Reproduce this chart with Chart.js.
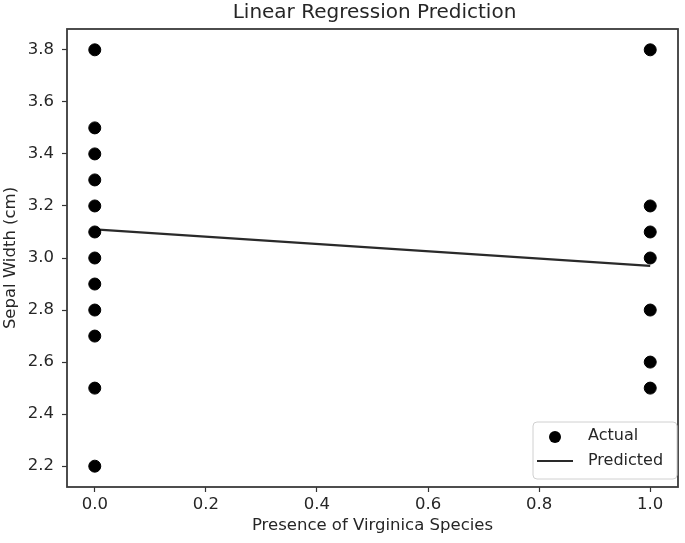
<!DOCTYPE html>
<html>
<head>
<meta charset="utf-8">
<script src="https://cdn.jsdelivr.net/npm/chart.js@4"></script>
<style>
  html, body { margin: 0; padding: 0; background: #fff; }
  #wrap { width: 685px; height: 543px; position: relative; }
</style>
</head>
<body>
<div id="wrap"><canvas id="c" width="685" height="543"></canvas></div>
<script>
// Data
const speciesX0 = [0, 0, 0, 0, 0, 0, 0, 0, 0, 0, 0, 0];
const widthX0 = [3.8, 3.5, 3.4, 3.3, 3.2, 3.1, 3.0, 2.9, 2.8, 2.7, 2.5, 2.2];
const speciesX1 = [1, 1, 1, 1, 1, 1, 1];
const widthX1 = [3.8, 3.2, 3.1, 3.0, 2.8, 2.6, 2.5];
const predX = [0, 1];
const predY = [3.11, 2.97];
const xTickValues = [0.0, 0.2, 0.4, 0.6, 0.8, 1.0];
const yTickValues = [2.2, 2.4, 2.6, 2.8, 3.0, 3.2, 3.4, 3.6, 3.8];

const actualPoints = speciesX0.map((x, i) => ({ x: x, y: widthX0[i] }))
  .concat(speciesX1.map((x, i) => ({ x: x, y: widthX1[i] })));
const predictedPoints = predX.map((x, i) => ({ x: x, y: predY[i] }));

const FONT = "'DejaVu Sans', sans-serif";
const TXT = '#262626';
const FS = 16.5;

const framePlugin = {
  id: 'frame',
  afterDraw(chart) {
    const { ctx, chartArea: a } = chart;
    ctx.save();
    ctx.strokeStyle = '#3a3a3a';
    ctx.lineWidth = 1.8;
    ctx.strokeRect(a.left, a.top, a.right - a.left, a.bottom - a.top);
    // title
    ctx.fillStyle = TXT;
    ctx.font = '20px ' + FONT;
    ctx.textAlign = 'center';
    ctx.textBaseline = 'middle';
    ctx.fillText('Linear Regression Prediction', (a.left + a.right) / 2 + 2, 13);
    // legend
    const bx = 533, by = 422, bw = 144, bh = 57, r = 4;
    ctx.beginPath();
    ctx.moveTo(bx + r, by);
    ctx.lineTo(bx + bw - r, by);
    ctx.quadraticCurveTo(bx + bw, by, bx + bw, by + r);
    ctx.lineTo(bx + bw, by + bh - r);
    ctx.quadraticCurveTo(bx + bw, by + bh, bx + bw - r, by + bh);
    ctx.lineTo(bx + r, by + bh);
    ctx.quadraticCurveTo(bx, by + bh, bx, by + bh - r);
    ctx.lineTo(bx, by + r);
    ctx.quadraticCurveTo(bx, by, bx + r, by);
    ctx.closePath();
    ctx.fillStyle = 'rgba(255,255,255,0.8)';
    ctx.fill();
    ctx.strokeStyle = '#d0d0d0';
    ctx.lineWidth = 1;
    ctx.stroke();
    const ds = chart.data.datasets;
    // Actual marker
    ctx.fillStyle = ds[0].backgroundColor;
    ctx.beginPath();
    ctx.arc(555, 437, 6, 0, Math.PI * 2);
    ctx.fill();
    // Predicted line
    ctx.strokeStyle = ds[1].borderColor;
    ctx.lineWidth = 2;
    ctx.beginPath();
    ctx.moveTo(537, 461);
    ctx.lineTo(573, 461);
    ctx.stroke();
    ctx.fillStyle = TXT;
    ctx.font = '16px ' + FONT;
    ctx.textAlign = 'left';
    ctx.textBaseline = 'middle';
    ctx.fillText(ds[0].label, 588, 436);
    ctx.fillText(ds[1].label, 588, 461);
    ctx.restore();
  }
};

new Chart(document.getElementById('c'), {
  type: 'scatter',
  data: {
    datasets: [
      {
        label: 'Actual',
        data: actualPoints,
        backgroundColor: '#000',
        borderColor: '#000',
        pointRadius: 6,
        pointHoverRadius: 6
      },
      {
        type: 'line',
        label: 'Predicted',
        data: predictedPoints,
        borderColor: '#2a2a2a',
        backgroundColor: '#2a2a2a',
        borderWidth: 2.2,
        pointRadius: 0,
        fill: false,
        showLine: true
      }
    ]
  },
  options: {
    responsive: false,
    animation: false,
    devicePixelRatio: 1,
    layout: { padding: { top: 29, right: 2, left: 0, bottom: 0 } },
    plugins: {
      legend: { display: false },
      title: { display: false },
      tooltip: { enabled: false }
    },
    scales: {
      x: {
        type: 'linear',
        min: -0.05,
        max: 1.05,
        afterFit(s) { s.height = 56; },
        afterBuildTicks(s) { s.ticks = xTickValues.map(v => ({ value: v })); },
        grid: { display: true, drawOnChartArea: false, drawTicks: true, tickLength: 5, color: '#333', tickWidth: 1.2 },
        border: { display: false },
        ticks: {
          color: TXT,
          font: { family: FONT, size: FS },
          padding: 3,
          maxRotation: 0,
          autoSkip: false,
          callback: v => Number(v).toFixed(1)
        },
        title: {
          display: true,
          text: 'Presence of Virginica Species',
          color: TXT,
          font: { family: FONT, size: FS },
          padding: { top: 0, bottom: 7 }
        }
      },
      y: {
        type: 'linear',
        min: 2.12,
        max: 3.88,
        afterFit(s) { s.width = 67; },
        afterBuildTicks(s) { s.ticks = yTickValues.map(v => ({ value: v })); },
        grid: { display: true, drawOnChartArea: false, drawTicks: true, tickLength: 5, color: '#333', tickWidth: 1.2 },
        border: { display: false },
        ticks: {
          color: TXT,
          font: { family: FONT, size: FS },
          padding: 8,
          autoSkip: false,
          callback: v => Number(v).toFixed(1)
        },
        title: {
          display: true,
          text: 'Sepal Width (cm)',
          color: TXT,
          font: { family: FONT, size: FS },
          padding: { top: 1, bottom: 0 }
        }
      }
    }
  },
  plugins: [framePlugin]
});
</script>
</body>
</html>
